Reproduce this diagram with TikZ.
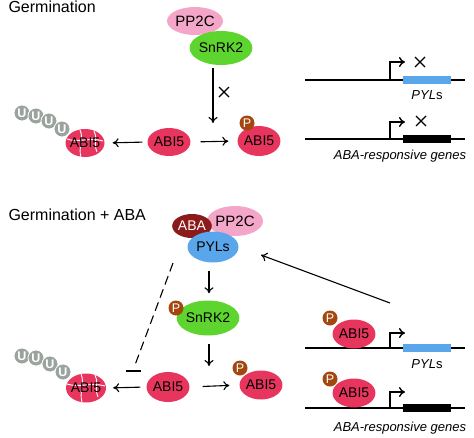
\documentclass[tikz,border=0pt]{standalone}
\usepackage{fontspec}
\setmainfont{Liberation Sans}
\usetikzlibrary{arrows.meta,shapes.geometric}
\definecolor{pinkc}{HTML}{F4A6C8}
\definecolor{greenc}{HTML}{5ED52F}
\definecolor{abired}{HTML}{E8355E}
\definecolor{pbrown}{HTML}{A3470F}
\definecolor{ugray}{HTML}{9BA39E}
\definecolor{pylblue}{HTML}{5AA6EA}
\definecolor{abadark}{HTML}{8B1B1B}
\begin{document}
\begin{tikzpicture}[x=1pt,y=-1pt,
  prot/.style={ellipse,inner sep=0pt,font=\fontsize{14}{15}\selectfont},
  pcirc/.style={circle,fill=pbrown,text=white,inner sep=0pt,minimum size=15pt,font=\fontsize{12.5}{13}\selectfont},
  ucirc/.style={circle,fill=ugray,draw=white,line width=0.8pt,text=white,inner sep=0pt,minimum size=16pt,font=\bfseries\fontsize{12.5}{13}\selectfont},
  arr/.style={line width=1.1pt,-{To[length=6pt,width=9pt]}},
  gene/.style={line width=1.4pt},
  prom/.style={line width=1.4pt,-{To[length=6pt,width=10pt]}},
  xmark/.style={line width=1.1pt},
  title/.style={font=\fontsize{16}{18}\selectfont,anchor=west},
  glabel/.style={font=\fontsize{13}{15}\selectfont}
]
\useasboundingbox (0,0) rectangle (474,437);

% ---------- Top panel ----------
\node[title] (t1) at (5,7) {Germination};
\node[prot,fill=pinkc,minimum width=56pt,minimum height=28pt,font=\fontsize{15}{16}\selectfont] (pp2cA) at (195,21) {PP2C};
\node[prot,fill=greenc,minimum width=58pt,minimum height=34pt] (snrkA) at (221,48) {SnRK2};
\coordinate (aTop) at (213,68);
\coordinate (aBot) at (213,123);
\draw[arr] (aTop) -- (aBot);
\draw[xmark] (219,87) -- (229,97) (219,97) -- (229,87);

% U chain + degraded ABI5
\node[ucirc] (u1) at (22,113) {U};
\node[ucirc] (u2) at (36,116) {U};
\node[ucirc] (u3) at (49,121) {U};
\node[ucirc] (u4) at (62,129) {U};
\node[prot,fill=abired,minimum width=39pt,minimum height=28pt] (degA) at (85,143) {};
\draw[white,line width=0.9pt] (80,130) .. controls (84,138) and (78,148) .. (81,157);
\draw[white,line width=0.9pt] (94,131) .. controls (98,137) and (93,143) .. (97,152);
\draw[white,line width=0.9pt] (67,139) .. controls (78,143) and (90,137) .. (103,141);
\node[prot,minimum width=39pt,minimum height=28pt] (degAt) at (85,143) {ABI5};

\node[prot,fill=abired,minimum width=38pt,minimum height=28pt] (abiA) at (169,142) {ABI5};
\node[prot,fill=abired,minimum width=40pt,minimum height=30pt] (pabiA) at (259,141) {ABI5};
\node[pcirc] (pA) at (247,123) {P};
\draw[arr,shorten <=5pt,shorten >=8pt] (abiA.west) -- (degA.east);
\draw[arr,shorten <=10pt,shorten >=9pt] (abiA.east) -- (pabiA.west);

% genes top
\coordinate (g1a) at (305,80); \coordinate (g1b) at (465,80);
\draw[gene] (g1a) -- (g1b);
\coordinate (p1) at (390,80); \coordinate (p1e) at (405,62);
\draw[prom] (p1) |- (p1e);
\fill[pylblue] (403,75.5) rectangle (451,84);
\draw[xmark] (415,57) -- (425,67) (415,67) -- (425,57);
\node[glabel] (pylA) at (427,95) {\textit{PYL}s};

\coordinate (g2a) at (305,139); \coordinate (g2b) at (465,139);
\draw[gene] (g2a) -- (g2b);
\coordinate (p2) at (390,139); \coordinate (p2e) at (405,122);
\draw[prom] (p2) |- (p2e);
\fill[black] (403,135) rectangle (451,143);
\draw[xmark] (416,116) -- (426,126) (416,126) -- (426,116);
\node[glabel] (araA) at (400,156) {\textit{ABA-responsive genes}};

% ---------- Bottom panel ----------
\node[title] (t2) at (5,215) {Germination + ABA};
\node[prot,fill=pinkc,minimum width=56pt,minimum height=30pt,font=\fontsize{15}{16}\selectfont] (pp2cB) at (235,221) {PP2C};
\node[prot,fill=abadark,text=white,minimum width=31pt,minimum height=24pt] (abaB) at (192,226) {ABA};
\node[prot,fill=pylblue,minimum width=51pt,minimum height=31pt] (pylB) at (213,247) {PYLs};
\node[prot,fill=greenc,minimum width=56pt,minimum height=35pt] (snrkB) at (208,318) {SnRK2};
\node[pcirc] (pS) at (176,308) {P};
\draw[arr,shorten <=8pt,shorten >=7pt] (pylB.south -| 209,0) -- (snrkB.north -| 209,0);

\node[ucirc] (v1) at (22,356) {U};
\node[ucirc] (v2) at (36,358) {U};
\node[ucirc] (v3) at (50,364) {U};
\node[ucirc] (v4) at (63,372) {U};
\node[prot,fill=abired,minimum width=40pt,minimum height=29pt] (degB) at (86,388) {};
\draw[white,line width=0.9pt] (81,374) .. controls (85,382) and (79,393) .. (82,402);
\draw[white,line width=0.9pt] (95,375) .. controls (99,381) and (94,388) .. (98,397);
\draw[white,line width=0.9pt] (67,384) .. controls (79,388) and (91,382) .. (105,386);
\node[prot,minimum width=40pt,minimum height=29pt] (degBt) at (86,388) {ABI5};

\node[prot,fill=abired,minimum width=36pt,minimum height=30pt] (abiB) at (168,387) {ABI5};
\node[prot,fill=abired,minimum width=38pt,minimum height=29pt] (pabiB) at (261,385) {ABI5};
\node[pcirc] (pB) at (240,368) {P};
\coordinate (sTop) at (209,344);
\coordinate (sBot) at (209,366);
\draw[arr] (sTop) -- (sBot);
\draw[arr,shorten <=6pt,shorten >=7pt] (abiB.west) -- (degB.east);
\draw[arr,shorten <=13pt,shorten >=10pt] (abiB.east) -- (pabiB.west);

% dashed inhibition
\coordinate (dA) at (173,263);
\coordinate (dB) at (135,365);
\draw[line width=1.1pt,dash pattern=on 9pt off 5pt] (dA) -- (dB);
\coordinate (bA) at (126,371); \coordinate (bB) at (141,371);
\draw[line width=1.3pt] (bA) -- (bB);

% genes bottom
\coordinate (h1a) at (305,348); \coordinate (h1b) at (465,348);
\draw[gene] (h1a) -- (h1b);
\coordinate (q1) at (390,348); \coordinate (q1e) at (405,333);
\draw[prom] (q1) |- (q1e);
\fill[pylblue] (403,344) rectangle (451,352);
\node[prot,fill=abired,minimum width=38pt,minimum height=29pt] (gabi1) at (354,334) {ABI5};
\node[pcirc] (gp1) at (330,318) {P};
\node[glabel] (pylB2) at (427,364) {\textit{PYL}s};

\coordinate (h2a) at (305,408); \coordinate (h2b) at (465,408);
\draw[gene] (h2a) -- (h2b);
\coordinate (q2) at (390,408); \coordinate (q2e) at (405,392);
\draw[prom] (q2) |- (q2e);
\fill[black] (403,404) rectangle (451,412);
\node[prot,fill=abired,minimum width=38pt,minimum height=29pt] (gabi2) at (354,393) {ABI5};
\node[pcirc] (gp2) at (330,379) {P};
\node[glabel] (araB) at (400,428) {\textit{ABA-responsive genes}};

% feedback arrow
\coordinate (fA) at (390,303);
\coordinate (fB) at (261,255);
\draw[arr] (fA) -- (fB);
\end{tikzpicture}
\end{document}
